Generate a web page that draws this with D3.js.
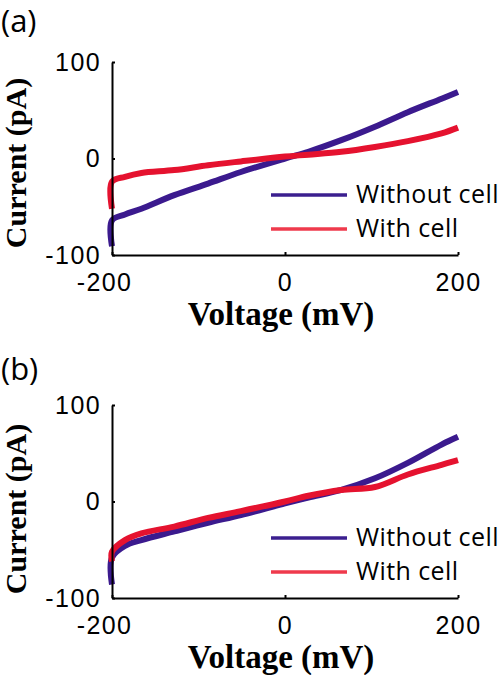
<!DOCTYPE html>
<html>
<head>
<meta charset="utf-8">
<script src="https://cdn.jsdelivr.net/npm/d3@7"></script>
<style>
  body { margin: 0; background: #fff; }
  svg { display: block; }
</style>
</head>
<body>
<div id="chart"></div>
<script>
// voltage samples (mV), first point repeated for the vertical jump at -200
const voltage = [-200, -200, -185, -166, -128, -89, -51, 0, 27, 65, 104, 142, 181, 200];

// panel (a) currents (pA)
const aWithout = [-91, -64, -58, -52, -38, -26, -14, 0, 7, 19, 33, 48, 62, 69];
const aWith = [-52, -24, -19, -15, -12, -7, -3, 2, 4, 7, 12, 18, 26, 32];

// panel (b) currents (pA)
const bWithout = [-86, -58, -46, -40, -31, -22, -14, -2, 4, 12, 24, 40, 59, 67];
const bWith = [-62, -52, -40, -33, -26, -17, -10, 0, 6, 12, 15, 28, 38, 43];

const xTicks = [-200, 0, 200];
const yTicks = [-100, 0, 100];
const seriesNames = ['Without cell', 'With cell'];

const colors = { without: '#3b1a8e', with: '#e5122f' };
const legendColors = ['#3b1f8f', '#ef3a4c'];

const width = 500;
const height = 675;

const svg = d3.select('#chart')
  .append('svg')
  .attr('width', width)
  .attr('height', height);

function drawPanel(offset, label, without, withCell) {
  const g = svg.append('g').attr('transform', `translate(0,${offset})`);

  const x = d3.scaleLinear().domain([-200, 200]).range([112, 458]);
  const y = d3.scaleLinear().domain([-100, 100]).range([255, 62]);

  // panel letter
  g.append('text')
    .attr('x', 1)
    .attr('y', label === '(a)' ? 32 : 37)
    .style('font-family', '"Open Sans", sans-serif')
    .style('font-size', '31px')
    .attr('fill', '#000')
    .text(label);

  // series lines
  const line = d3.line()
    .x((d) => x(d[0]))
    .y((d) => y(d[1]))
    .curve(d3.curveCatmullRom.alpha(0.5));

  const series = [
    { values: without, color: colors.without },
    { values: withCell, color: colors.with },
  ];

  series.forEach((s) => {
    g.append('path')
      .datum(voltage.map((v, i) => [v, s.values[i]]))
      .attr('fill', 'none')
      .attr('stroke', s.color)
      .attr('stroke-width', 6)
      .attr('stroke-linejoin', 'round')
      .attr('d', line);
  });

  // axes
  const xAxis = g.append('g')
    .attr('transform', `translate(0,${y(-100)})`)
    .call(d3.axisBottom(x).tickValues(xTicks).tickFormat((d) => String(d))
      .tickSizeInner(-3).tickSizeOuter(0).tickPadding(18));

  const yAxis = g.append('g')
    .attr('transform', `translate(${x(-200)},0)`)
    .call(d3.axisLeft(y).tickValues(yTicks).tickFormat((d) => String(d))
      .tickSizeInner(-3).tickSizeOuter(0).tickPadding(11));

  [xAxis, yAxis].forEach((ax) => {
    ax.select('.domain').attr('stroke', '#000').attr('stroke-width', 2);
    ax.selectAll('.tick line').attr('stroke', '#000').attr('stroke-width', 2);
    ax.selectAll('.tick text')
      .attr('fill', '#000')
      .style('font-family', '"Liberation Sans", Arial, sans-serif')
      .style('font-size', '25px')
      .style('letter-spacing', '1.4px');
  });

  // the -200 label sits a little left of its tick
  xAxis.selectAll('.tick text').filter((d) => d === -200).attr('dx', -8);

  // axis titles
  g.append('text')
    .attr('transform', `translate(26,${163 + (label === '(a)' ? 0 : 3)}) rotate(-90)`)
    .attr('text-anchor', 'middle')
    .style('font-family', '"Liberation Serif", "Times New Roman", serif')
    .style('font-weight', 'bold')
    .style('font-size', '30px')
    .attr('fill', '#000')
    .text('Current (pA)');

  g.append('text')
    .attr('x', 281)
    .attr('y', 325)
    .attr('text-anchor', 'middle')
    .style('font-family', '"Liberation Serif", "Times New Roman", serif')
    .style('font-weight', 'bold')
    .style('font-size', '33px')
    .attr('fill', '#000')
    .text('Voltage (mV)');

  // legend
  const legend = g.append('g');
  const rowY = [195, 229];
  seriesNames.forEach((name, i) => {
    legend.append('line')
      .attr('x1', 271)
      .attr('x2', 347)
      .attr('y1', rowY[i])
      .attr('y2', rowY[i])
      .attr('stroke', legendColors[i])
      .attr('stroke-width', 3.5);
    legend.append('text')
      .attr('x', 356)
      .attr('y', rowY[i] + 8)
      .style('font-family', '"Open Sans", sans-serif')
      .style('font-size', '25px')
      .style('letter-spacing', '0.4px')
      .attr('fill', '#000')
      .text(name);
  });
}

drawPanel(0, '(a)', aWithout, aWith);
drawPanel(343, '(b)', bWithout, bWith);
</script>
</body>
</html>
